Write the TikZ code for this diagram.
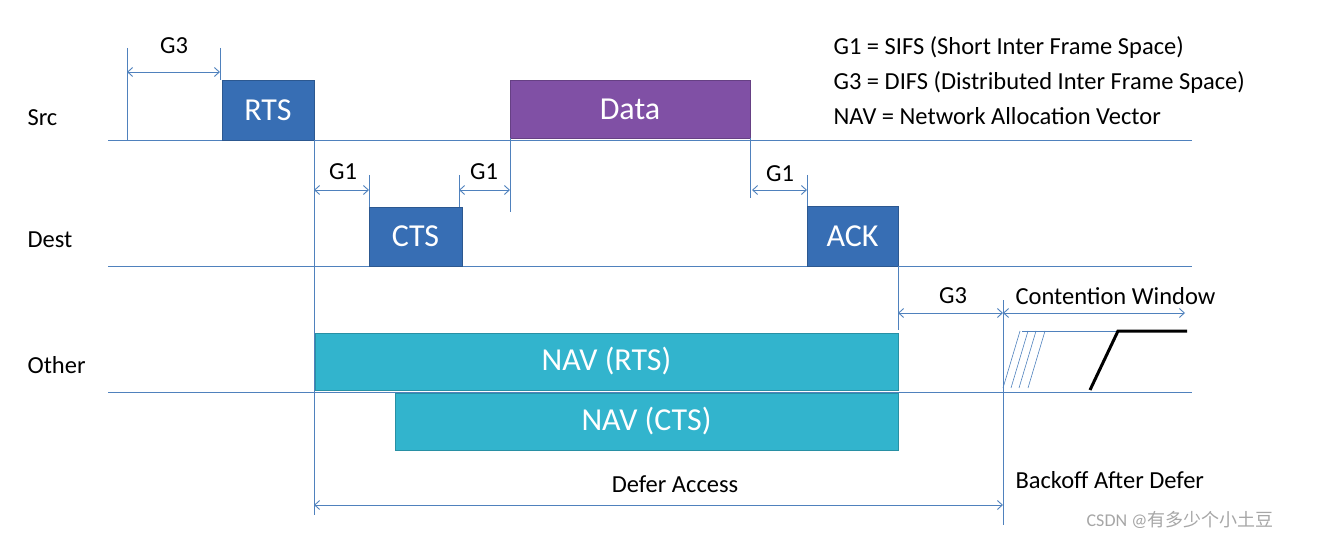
\documentclass[tikz,border=0pt]{standalone}
\usepackage{fontspec}
\setmainfont{Carlito}
\newfontfamily\cjk{Noto Sans CJK SC}
\usetikzlibrary{arrows.meta}
\definecolor{ln}{RGB}{79,129,189}
\definecolor{bl}{RGB}{55,110,180}
\definecolor{pu}{RGB}{128,80,165}
\definecolor{cy}{RGB}{50,180,205}
\begin{document}
\begin{tikzpicture}[x=1pt,y=-1pt,
 l/.style={ln,line width=0.9pt},
 dim/.style={ln,line width=0.9pt,{Straight Barb[length=5pt,width=9pt]}-{Straight Barb[length=5pt,width=9pt]}},
 box/.style={draw=#1!80!black,fill=#1,text=white,font=\fontsize{32}{32}\selectfont,inner sep=0pt},
 lab/.style={font=\fontsize{24.5}{24.5}\selectfont,text=black}]
\useasboundingbox (0,0) rectangle (1328,540);
\draw[l] (108,140)--(1192,140) (108,266)--(1192,266) (108,392)--(1192,392);
\node[lab,anchor=west] (src) at (24,118) {Src};
\node[lab,anchor=west] (dst) at (24,240) {Dest};
\node[lab,anchor=west] (oth) at (24,365) {Other};
\node[box=bl,minimum width=92,minimum height=60] (rts) at (268,110) {RTS};
\node[box=bl,minimum width=93,minimum height=59] (cts) at (415.5,236.5) {CTS};
\node[box=pu,minimum width=240,minimum height=58] (data) at (630,109) {Data};
\node[box=bl,minimum width=91,minimum height=60] (ack) at (852.5,236) {ACK};
\node[box=cy,minimum width=583,minimum height=57] (navr) at (606.5,361.5) {NAV (RTS)};
\node[box=cy,minimum width=503,minimum height=57] (navc) at (646.5,421.5) {NAV (CTS)};
\draw[l] (127,48)--(127,140) (220,48)--(220,80) (314,140)--(314,515)
 (369,175)--(369,207) (459,175)--(459,207) (510,138)--(510,212)
 (750,138)--(750,198) (807,175)--(807,206) (898,266)--(898,330) (1003,300)--(1003,525);
\draw[dim] (127,72)--(220,72); \node[lab] (g3a) at (174,46) {G3};
\draw[dim] (314,190)--(369,190); \node[lab] (g1a) at (343,172) {G1};
\draw[dim] (459,190)--(510,190); \node[lab] (g1b) at (484,172) {G1};
\draw[dim] (752,190)--(807,190); \node[lab] (g1c) at (780,174) {G1};
\draw[dim] (898,313)--(1003,313); \node[lab] (g3b) at (953,296) {G3};
\draw[dim] (1003,313)--(1185,313); \node[lab,anchor=west] (cw) at (1012,296) {Contention Window};
\draw[dim] (314,505)--(1003,505); \node[lab] (da) at (675,484) {Defer Access};
\node[lab,anchor=west] (bad) at (1012,480) {Backoff After Defer};
\draw[l,line width=0.7pt] (1022,331)--(1120,331);
\foreach \d in {0,8,16,25} \draw[ln,line width=0.6pt] (1003+\d,388)--(1020+\d,331);
\draw[line width=3pt] (1090,390)--(1118,331)--(1187,331);
\node[lab,anchor=west] (l1) at (830,48) {G1 = SIFS (Short Inter Frame Space)};
\node[lab,anchor=west] (l2) at (830,83) {G3 = DIFS (Distributed Inter Frame Space)};
\node[lab,anchor=west] (l3) at (830,116) {NAV = Network Allocation Vector};
\node[text=gray!70,font=\fontsize{18}{18}\selectfont] (wm) at (1180,520) {CSDN @{\cjk 有多少个小土豆}};
\end{tikzpicture}
\end{document}
